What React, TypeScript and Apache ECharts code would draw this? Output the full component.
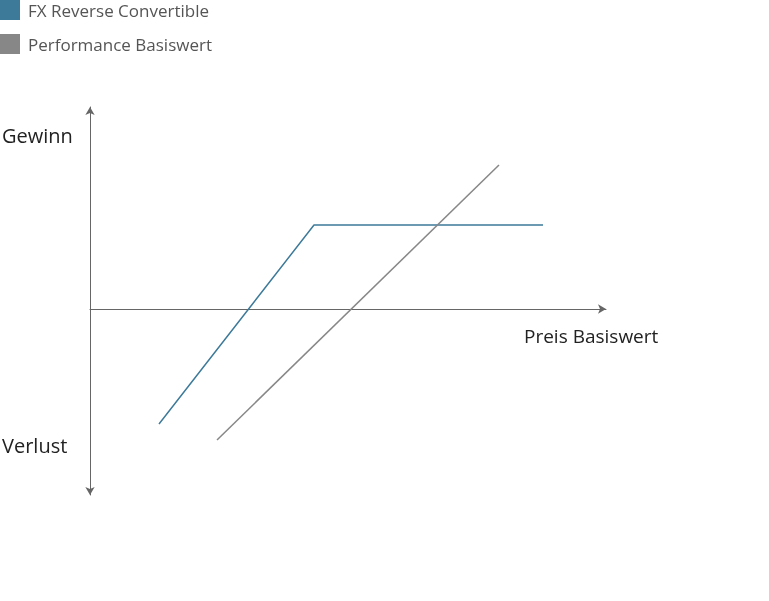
import * as echarts from 'echarts'
import { useEffect, useRef } from 'react'

// payoff diagram, abstract units (1 unit ~ 10 px of plot)
const seriesNames = ['FX Reverse Convertible', 'Performance Basiswert']
const reversePoints: [number, number][] = [
	[6.9, -11.5],
	[22.4, 8.4],
	[45.3, 8.4],
]
const basisPoints: [number, number][] = [
	[12.7, -13.1],
	[40.9, 14.4],
]
const xRange = [0, 51.6]
const yRange = [-18.6, 20.2]

const colors = ['#3d7a9a', '#878787']
const font = '"Open Sans", "Noto Sans", sans-serif'

function App() {
	const chartRef = useRef<HTMLDivElement>(null)

	useEffect(() => {
		const myChart = echarts.init(chartRef.current, null, { renderer: 'svg' })

		const axisLine = (symbol: string[]) => ({
			show: true,
			onZero: true,
			symbol,
			symbolSize: [7, 8],
			lineStyle: { color: '#666', width: 1 },
		})

		myChart.setOption({
			animation: false,
			color: colors,
			textStyle: { fontFamily: font },
			legend: {
				orient: 'vertical',
				left: 0,
				top: 0,
				padding: 0,
				icon: 'rect',
				itemWidth: 20,
				itemHeight: 20,
				itemGap: 14,
				data: seriesNames,
				textStyle: { fontSize: 17, color: '#555', fontFamily: font, padding: [0, 0, 0, 3] },
			},
			grid: { left: 90, top: 107, width: 516, height: 388 },
			xAxis: {
				type: 'value',
				min: xRange[0],
				max: xRange[1],
				axisLine: axisLine(['none', 'arrow']),
				axisTick: { show: false },
				axisLabel: { show: false },
				splitLine: { show: false },
			},
			yAxis: {
				type: 'value',
				min: yRange[0],
				max: yRange[1],
				axisLine: axisLine(['arrow', 'arrow']),
				axisTick: { show: false },
				axisLabel: { show: false },
				splitLine: { show: false },
			},
			graphic: [
				{ type: 'text', left: 2, top: 125, style: { text: 'Gewinn', fontSize: 20, fill: '#222', fontFamily: font } },
				{ type: 'text', left: 2, top: 435, style: { text: 'Verlust', fontSize: 20, fill: '#222', fontFamily: font } },
				{ type: 'text', left: 524, top: 326, style: { text: 'Preis Basiswert', fontSize: 19, fill: '#222', fontFamily: font } },
			],
			series: [
				{
					name: seriesNames[0],
					type: 'line',
					data: reversePoints,
					showSymbol: false,
					lineStyle: { width: 1.5 },
				},
				{
					name: seriesNames[1],
					type: 'line',
					data: basisPoints,
					showSymbol: false,
					lineStyle: { width: 1.5 },
				},
			],
		})

		return () => {
			myChart.dispose()
		}
	}, [])

	return <div ref={chartRef} style={{ position: 'fixed', left: 0, top: 0, width: 769, height: 601 }} />
}

export default App
